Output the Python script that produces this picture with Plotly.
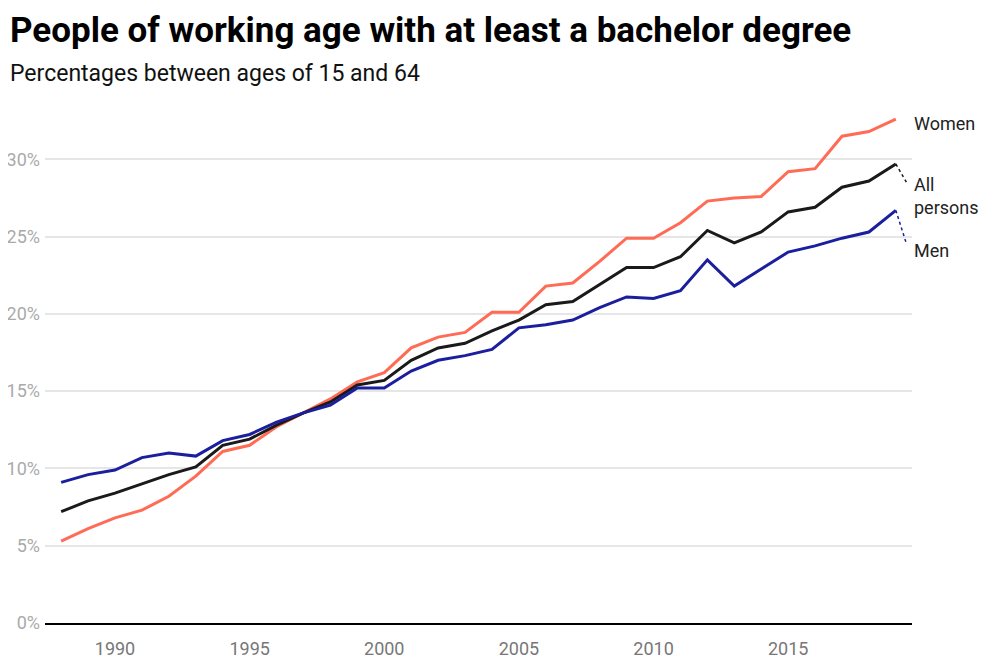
import plotly.graph_objects as go

years = list(range(1988, 2020))

women = [5.3, 6.1, 6.8, 7.3, 8.2, 9.5, 11.1, 11.5, 12.7, 13.6, 14.5, 15.6, 16.2, 17.8, 18.5, 18.8,
         20.1, 20.1, 21.8, 22.0, 23.4, 24.9, 24.9, 25.9, 27.3, 27.5, 27.6, 29.2, 29.4, 31.5, 31.8, 32.6]
all_persons = [7.2, 7.9, 8.4, 9.0, 9.6, 10.1, 11.5, 11.9, 12.8, 13.6, 14.3, 15.4, 15.7, 17.0, 17.8, 18.1,
               18.9, 19.6, 20.6, 20.8, 21.9, 23.0, 23.0, 23.7, 25.4, 24.6, 25.3, 26.6, 26.9, 28.2, 28.6, 29.7]
men = [9.1, 9.6, 9.9, 10.7, 11.0, 10.8, 11.8, 12.2, 13.0, 13.6, 14.1, 15.2, 15.2, 16.3, 17.0, 17.3,
       17.7, 19.1, 19.3, 19.6, 20.4, 21.1, 21.0, 21.5, 23.5, 21.8, 22.9, 24.0, 24.4, 24.9, 25.3, 26.7]

x_ticks = [1990, 1995, 2000, 2005, 2010, 2015]
y_ticks = [0, 5, 10, 15, 20, 25, 30]
y_labels = [f"{v}%" for v in y_ticks]

red = "#ff6b55"
black = "#1a1a1a"
blue = "#1b1f9e"
font = "Roboto"

fig = go.Figure()
fig.add_trace(go.Scatter(x=years, y=women, mode="lines", name="Women",
                         line=dict(color=red, width=3)))
fig.add_trace(go.Scatter(x=years, y=all_persons, mode="lines", name="All persons",
                         line=dict(color=black, width=3)))
fig.add_trace(go.Scatter(x=years, y=men, mode="lines", name="Men",
                         line=dict(color=blue, width=3)))

# dotted leaders from the last points to the labels
fig.add_shape(type="line", xref="x", yref="y", x0=years[-1], y0=all_persons[-1],
              x1=years[-1] + 0.4, y1=all_persons[-1] - 1.2,
              line=dict(color=black, width=1.5, dash="dot"))
fig.add_shape(type="line", xref="x", yref="y", x0=years[-1], y0=men[-1],
              x1=years[-1] + 0.4, y1=men[-1] - 2.2,
              line=dict(color=blue, width=1.5, dash="dot"))

lab = dict(family=font, size=18, color="#222222")
fig.add_annotation(x=1, xref="paper", y=32.3, yref="y", text="Women", showarrow=False,
                   xanchor="left", yanchor="middle", align="left", font=lab)
fig.add_annotation(x=1, xref="paper", y=27.6, yref="y", text="All<br>persons", showarrow=False,
                   xanchor="left", yanchor="middle", align="left", font=lab)
fig.add_annotation(x=1, xref="paper", y=24.1, yref="y", text="Men", showarrow=False,
                   xanchor="left", yanchor="middle", align="left", font=lab)

fig.add_annotation(x=-0.0427, xref="paper", y=1.205, yref="paper",
                   text="<b>People of working age with at least a bachelor degree</b>",
                   showarrow=False, xanchor="left", yanchor="top",
                   font=dict(family=font, size=35, color="#000000"))
fig.add_annotation(x=-0.0427, xref="paper", y=1.078, yref="paper",
                   text="Percentages between ages of 15 and 64",
                   showarrow=False, xanchor="left", yanchor="middle",
                   font=dict(family=font, size=23, color="#111111"))

fig.update_layout(
    width=992, height=659,
    margin=dict(l=37, r=88, t=105, b=44),
    plot_bgcolor="white", paper_bgcolor="white",
    showlegend=False,
    font=dict(family=font),
    xaxis=dict(range=[1987.4, 2019.6], tickvals=x_ticks, showgrid=False, zeroline=False,
               showline=True, linecolor="black", linewidth=2, ticks="", automargin=False,
               ticklabelstandoff=8, tickfont=dict(family=font, size=18, color="#777777")),
    yaxis=dict(range=[0, 33], tickvals=y_ticks, ticktext=y_labels, showgrid=True,
               gridcolor="#e6e6e6", gridwidth=1.5, zeroline=False, showline=False, ticks="",
               automargin=False, ticklabelstandoff=4,
               tickfont=dict(family=font, size=18, color="#aaaaaa")),
)

fig.write_html("out.html")
